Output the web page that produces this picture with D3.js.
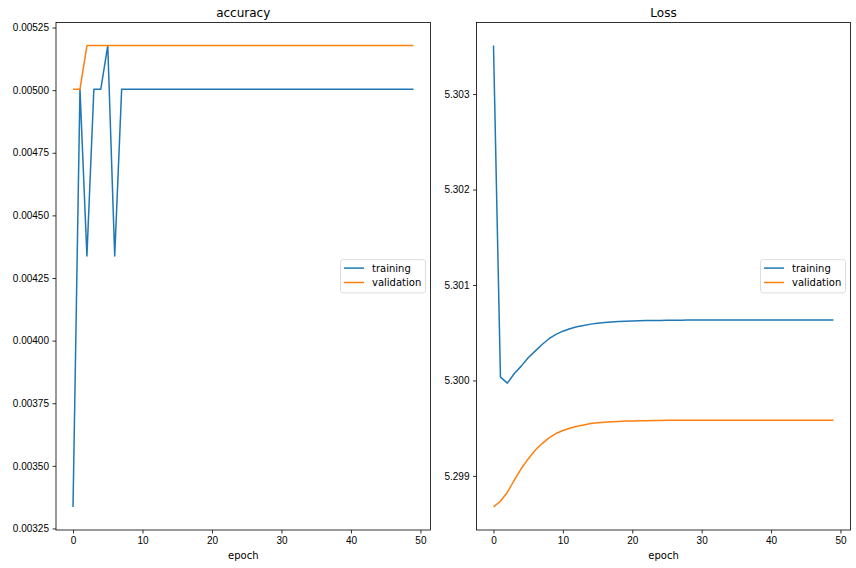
<!DOCTYPE html>
<html>
<head>
<meta charset="utf-8">
<script src="https://cdn.jsdelivr.net/npm/d3@7"></script>
<style>
  body { margin: 0; background: #fff; }
  svg { display: block; font-family: "DejaVu Sans", sans-serif; }
  .axis text { font-size: 10px; fill: #000; }
  .axis path, .axis line { stroke: #000; stroke-width: 0.8; }
</style>
</head>
<body>
<div id="chart"></div>
<script>
// epochs 0..49
var epochs = d3.range(50);

var accTraining = [
  0.003336, 0.005004, 0.004338, 0.005004, 0.005004, 0.005178, 0.004338, 0.005004, 0.005004, 0.005004,
  0.005004, 0.005004, 0.005004, 0.005004, 0.005004, 0.005004, 0.005004, 0.005004, 0.005004, 0.005004,
  0.005004, 0.005004, 0.005004, 0.005004, 0.005004, 0.005004, 0.005004, 0.005004, 0.005004, 0.005004,
  0.005004, 0.005004, 0.005004, 0.005004, 0.005004, 0.005004, 0.005004, 0.005004, 0.005004, 0.005004,
  0.005004, 0.005004, 0.005004, 0.005004, 0.005004, 0.005004, 0.005004, 0.005004, 0.005004, 0.005004
];
var accValidation = [
  0.005004, 0.005004, 0.005178, 0.005178, 0.005178, 0.005178, 0.005178, 0.005178, 0.005178, 0.005178,
  0.005178, 0.005178, 0.005178, 0.005178, 0.005178, 0.005178, 0.005178, 0.005178, 0.005178, 0.005178,
  0.005178, 0.005178, 0.005178, 0.005178, 0.005178, 0.005178, 0.005178, 0.005178, 0.005178, 0.005178,
  0.005178, 0.005178, 0.005178, 0.005178, 0.005178, 0.005178, 0.005178, 0.005178, 0.005178, 0.005178,
  0.005178, 0.005178, 0.005178, 0.005178, 0.005178, 0.005178, 0.005178, 0.005178, 0.005178, 0.005178
];
var lossTraining = [
  5.303508, 5.300035, 5.299972, 5.300073, 5.300150, 5.300238, 5.300307, 5.300377, 5.300437, 5.300482,
  5.300516, 5.300541, 5.300562, 5.300576, 5.300590, 5.300600, 5.300607, 5.300612, 5.300617, 5.300620,
  5.300623, 5.300625, 5.300627, 5.300628, 5.300629, 5.300630, 5.300631, 5.300631, 5.300632, 5.300632,
  5.300632, 5.300632, 5.300632, 5.300632, 5.300632, 5.300632, 5.300632, 5.300632, 5.300632, 5.300632,
  5.300632, 5.300632, 5.300632, 5.300632, 5.300632, 5.300632, 5.300632, 5.300632, 5.300632, 5.300632
];
var lossValidation = [
  5.298675, 5.298735, 5.298829, 5.298955, 5.299077, 5.299178, 5.299269, 5.299339, 5.299398, 5.299444,
  5.299475, 5.299499, 5.299520, 5.299534, 5.299549, 5.299557, 5.299563, 5.299567, 5.299571, 5.299574,
  5.299576, 5.299578, 5.299579, 5.299580, 5.299581, 5.299582, 5.299582, 5.299583, 5.299583, 5.299583,
  5.299583, 5.299583, 5.299583, 5.299583, 5.299583, 5.299583, 5.299583, 5.299583, 5.299583, 5.299583,
  5.299583, 5.299583, 5.299583, 5.299583, 5.299583, 5.299583, 5.299583, 5.299583, 5.299583, 5.299583
];

var seriesNames = ["training", "validation"];
var colors = ["#1f77b4", "#ff7f0e"];
var xTicks = [0, 10, 20, 30, 40, 50];
var accTicks = [0.00325, 0.0035, 0.00375, 0.004, 0.00425, 0.0045, 0.00475, 0.005, 0.00525];
var lossTicks = [5.299, 5.300, 5.301, 5.302, 5.303];

var width = 856, height = 568;
var svg = d3.select("#chart").append("svg").attr("width", width).attr("height", height);

// pad a domain by 5% each side, like matplotlib autoscale
function padded(ext) {
	var m = (ext[1] - ext[0]) * 0.05;
	return [ext[0] - m, ext[1] + m];
}

function panel(opts) {
	var x = d3.scaleLinear().domain(padded(d3.extent(epochs))).range([opts.left, opts.right]);
	var y = d3.scaleLinear().domain(padded(d3.extent(opts.series[0].concat(opts.series[1])))).range([opts.bottom, opts.top]);

	var g = svg.append("g");

	var line = d3.line().x(function (d, i) { return x(epochs[i]); }).y(function (d) { return y(d); });

	opts.series.forEach(function (s, i) {
		g.append("path").datum(s)
			.attr("fill", "none")
			.attr("stroke", colors[i])
			.attr("stroke-width", 1.5)
			.attr("stroke-linejoin", "round")
			.attr("d", line);
	});

	// frame
	g.append("rect")
		.attr("x", opts.left).attr("y", opts.top)
		.attr("width", opts.right - opts.left).attr("height", opts.bottom - opts.top)
		.attr("fill", "none").attr("stroke", "#000").attr("stroke-width", 0.8);

	g.append("g").attr("class", "axis")
		.attr("transform", "translate(0," + opts.bottom + ")")
		.call(d3.axisBottom(x).tickValues(xTicks).tickSize(3.5).tickPadding(3.5).tickSizeOuter(0).tickFormat(d3.format("d")))
		.select(".domain").remove();

	g.append("g").attr("class", "axis")
		.attr("transform", "translate(" + opts.left + ",0)")
		.call(d3.axisLeft(y).tickValues(opts.ticks).tickSize(3.5).tickPadding(3.5).tickSizeOuter(0).tickFormat(d3.format(opts.fmt)))
		.select(".domain").remove();

	g.append("text")
		.attr("x", (opts.left + opts.right) / 2).attr("y", 17)
		.attr("text-anchor", "middle").attr("font-size", 12).attr("fill", "#000")
		.text(opts.title);

	g.append("text")
		.attr("x", (opts.left + opts.right) / 2).attr("y", 559)
		.attr("text-anchor", "middle").attr("font-size", 10).attr("fill", "#000")
		.text("epoch");

	// legend, center right
	var lw = 85, lh = 33.3;
	var lx = opts.right - 5 - lw, ly = (opts.top + opts.bottom) / 2 - lh / 2;
	var lg = g.append("g").attr("transform", "translate(" + lx + "," + ly + ")");
	lg.append("rect").attr("width", lw).attr("height", lh).attr("rx", 2.5)
		.attr("fill", "#fff").attr("fill-opacity", 0.8)
		.attr("stroke", "#d6d6d6").attr("stroke-width", 0.8);
	seriesNames.forEach(function (name, i) {
		var yy = 8.5 + i * 14.4;
		lg.append("line").attr("x1", 3.5).attr("x2", 23.5).attr("y1", yy).attr("y2", yy)
			.attr("stroke", colors[i]).attr("stroke-width", 1.5);
		lg.append("text").attr("x", 31.5).attr("y", yy + 3.6)
			.attr("font-size", 10).attr("fill", "#000").text(name);
	});
}

panel({ left: 56, right: 430.5, top: 22.5, bottom: 530, series: [accTraining, accValidation],
	ticks: accTicks, fmt: ".5f", title: "accuracy" });
panel({ left: 476.5, right: 850.5, top: 22.5, bottom: 530, series: [lossTraining, lossValidation],
	ticks: lossTicks, fmt: ".3f", title: "Loss" });
</script>
</body>
</html>
